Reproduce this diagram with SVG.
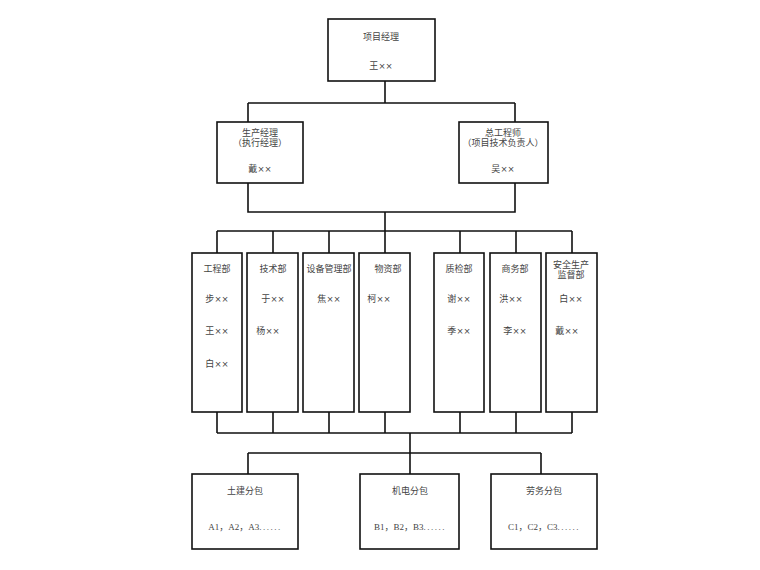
<svg xmlns="http://www.w3.org/2000/svg" width="760" height="570" viewBox="0 0 760 570">
<style>
.box{fill:#fff;stroke:#111;stroke-width:1.6}
.ln{fill:none;stroke:#111;stroke-width:1.6}
text{font-family:"Liberation Serif","Noto Sans CJK SC",serif;font-size:9px;fill:#444;text-anchor:middle}
.x{font-family:"DejaVu Sans",sans-serif;font-size:8.5px}
.d{letter-spacing:1.5px}
</style>
<rect width="760" height="570" fill="#fff"/>
<g id="connectors">
<path class="ln" d="M385 81V103M248 103H515M248 103V122M515 103V122"/>
<path class="ln" d="M248 183V212H515V183M385 212V231"/>
<path class="ln" d="M217 231H572M217 231V253M273 231V253M329 231V253M385 231V253M460 231V253M516 231V253M572 231V253"/>
<path class="ln" d="M217 412V433M273 412V433M329 412V433M385 412V433M460 412V433M516 412V433M572 412V433M217 433H572"/>
<path class="ln" d="M410 433V474M248 453H541M248 453V474M541 453V474"/>
</g>
<g id="pm"><rect class="box" x="328" y="19" width="107" height="62"/><text x="381" y="40">项目经理</text><text x="381" y="69">王<tspan class="x">××</tspan></text></g>
<g id="prod"><rect class="box" x="217" y="122" width="86" height="61"/><text x="260" y="136">生产经理</text><text x="260" y="146">（执行经理）</text><text x="260" y="172">戴<tspan class="x">××</tspan></text></g>
<g id="chief"><rect class="box" x="459" y="122" width="89" height="61"/><text x="503" y="136">总工程师</text><text x="503" y="146">（项目技术负责人）</text><text x="503" y="172">吴<tspan class="x">××</tspan></text></g>
<g id="d1"><rect class="box" x="192" y="253" width="50" height="159"/><text x="217" y="272">工程部</text><text x="217" y="302">步<tspan class="x">××</tspan></text><text x="217" y="334">王<tspan class="x">××</tspan></text><text x="217" y="367">白<tspan class="x">××</tspan></text></g>
<g id="d2"><rect class="box" x="247" y="253" width="51" height="159"/><text x="273" y="272">技术部</text><text x="273" y="302">于<tspan class="x">××</tspan></text><text x="268" y="334">杨<tspan class="x">××</tspan></text></g>
<g id="d3"><rect class="box" x="303" y="253" width="51" height="159"/><text x="329" y="272">设备管理部</text><text x="329" y="302">焦<tspan class="x">××</tspan></text></g>
<g id="d4"><rect class="box" x="359" y="253" width="51" height="159"/><text x="388" y="272">物资部</text><text x="379" y="302">柯<tspan class="x">××</tspan></text></g>
<g id="d5"><rect class="box" x="434" y="253" width="50" height="159"/><text x="459" y="272">质检部</text><text x="459" y="302">谢<tspan class="x">××</tspan></text><text x="459" y="334">季<tspan class="x">××</tspan></text></g>
<g id="d6"><rect class="box" x="490" y="253" width="51" height="159"/><text x="515" y="272">商务部</text><text x="511" y="302">洪<tspan class="x">××</tspan></text><text x="515" y="334">李<tspan class="x">××</tspan></text></g>
<g id="d7"><rect class="box" x="546" y="253" width="51" height="159"/><text x="571" y="268">安全生产</text><text x="571" y="278">监督部</text><text x="571" y="302">白<tspan class="x">××</tspan></text><text x="567" y="334">戴<tspan class="x">××</tspan></text></g>
<g id="s1"><rect class="box" x="192" y="474" width="106" height="75"/><text x="245" y="494">土建分包</text><text x="245" y="530">A1，A2，A3<tspan class="d">......</tspan></text></g>
<g id="s2"><rect class="box" x="360" y="474" width="99" height="75"/><text x="410" y="494">机电分包</text><text x="410" y="530">B1，B2，B3<tspan class="d">......</tspan></text></g>
<g id="s3"><rect class="box" x="491" y="474" width="106" height="75"/><text x="544" y="494">劳务分包</text><text x="544" y="530">C1，C2，C3<tspan class="d">......</tspan></text></g>
</svg>
